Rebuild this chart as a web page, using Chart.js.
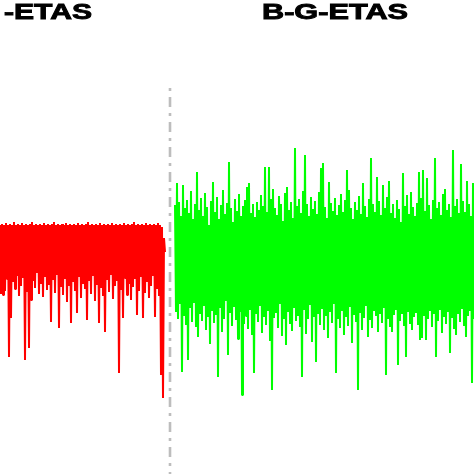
<!DOCTYPE html>
<html>
<head>
<meta charset="utf-8">
<script src="https://cdn.jsdelivr.net/npm/chart.js@4.4.0/dist/chart.umd.min.js"></script>
<style>
html,body{margin:0;padding:0;background:#ffffff;}
canvas{display:block;}
</style>
</head>
<body>
<canvas id="c" width="474" height="474"></canvas>
<script>
// ---- data ----
const modelNames = ['-ETAS', 'B-G-ETAS'];

// MCMC trace of the first model (left, red)
const redTrace = [
2.49,1.80,2.50,1.79,2.49,1.83,2.51,1.95,2.49,1.17,2.50,1.56,2.49,1.92,2.52,1.85,2.49,1.98,2.50,1.78,
2.49,1.88,2.51,1.96,2.49,1.14,2.50,1.82,2.49,1.26,2.50,1.74,2.52,1.93,2.49,1.86,2.50,2.01,2.49,1.80,
2.50,1.90,2.49,1.77,2.51,1.97,2.49,1.84,2.50,1.89,2.49,1.52,2.50,1.94,2.52,1.81,2.49,1.99,2.50,1.46,
2.49,1.87,2.50,1.79,2.49,1.95,2.51,1.72,2.49,1.88,2.50,1.51,2.49,1.92,2.50,1.83,2.49,1.61,2.51,1.97,
2.49,1.76,2.50,1.90,2.49,1.85,2.50,1.54,2.52,1.93,2.49,1.80,2.50,1.98,2.49,1.73,2.50,1.89,2.49,1.51,
2.51,1.86,2.49,1.78,2.50,1.42,2.49,1.94,2.50,1.82,2.49,1.99,2.51,1.75,2.49,1.88,2.50,1.93,2.49,1.01,
2.50,1.84,2.49,1.56,2.51,1.96,2.49,1.79,2.50,1.90,2.49,1.74,2.50,1.87,2.52,1.95,2.49,1.59,2.50,1.83,
2.49,1.97,2.50,1.56,2.49,1.81,2.51,1.92,2.49,1.76,2.50,1.88,2.49,1.98,2.50,1.57,2.49,1.85,2.51,1.78,
2.49,0.99,2.47,0.76,2.36,2.22
];

// MCMC trace of B-G-ETAS (right, green)
const greenTrace = [
2.69,1.62,2.91,1.55,2.72,1.70,2.58,1.02,2.89,1.58,2.66,1.49,2.74,1.14,2.61,1.66,2.83,1.52,2.55,1.71,
2.70,1.47,3.02,1.37,2.64,1.60,2.76,1.53,2.58,1.68,2.81,1.44,2.67,1.57,2.49,1.30,2.73,1.63,2.92,1.51,
2.62,1.59,2.77,0.97,2.55,1.66,2.69,1.42,2.84,1.55,2.60,1.73,2.71,1.19,3.12,1.61,2.66,1.48,2.52,1.67,
2.75,1.54,2.63,1.35,2.80,1.62,2.58,0.79,2.68,1.50,2.74,1.58,2.87,1.45,2.91,1.64,2.61,1.39,2.70,1.01,
2.57,1.60,2.72,1.52,2.64,1.68,2.79,1.41,2.68,1.57,3.07,1.49,2.62,1.63,3.07,1.33,2.75,0.84,2.85,1.56,
2.66,1.61,2.59,1.46,2.78,1.70,2.70,1.38,2.53,1.55,2.81,1.29,2.87,1.62,2.64,1.50,2.72,1.43,2.56,1.66,
3.26,1.53,2.68,1.58,2.75,1.47,2.61,0.97,2.83,1.64,3.19,1.40,2.70,1.55,2.58,1.69,2.77,1.32,2.65,1.57,
2.73,1.12,2.60,1.60,2.82,1.49,3.06,1.65,3.11,1.44,2.67,1.58,2.56,1.36,2.92,1.62,2.71,1.51,2.63,1.70,
2.76,1.01,2.59,1.55,2.69,1.46,2.80,1.63,2.62,1.39,2.74,1.57,3.04,1.48,2.84,1.67,2.66,1.31,2.55,1.59,
2.72,1.52,2.64,0.84,2.78,1.61,2.60,1.44,2.91,1.56,2.68,1.68,2.57,1.37,2.75,1.54,3.16,1.46,2.70,1.63,
2.62,1.58,2.97,1.42,2.73,1.60,2.59,1.51,2.89,1.66,2.66,0.99,2.77,1.55,2.93,1.47,2.61,1.42,2.70,1.59,
2.56,1.64,2.74,1.09,2.65,1.53,2.52,1.60,3.01,1.48,2.68,1.17,2.79,1.62,2.60,1.50,2.82,1.44,2.67,1.57,
2.58,1.61,2.71,1.49,3.02,1.34,2.76,1.36,3.04,1.58,2.63,1.34,2.96,1.55,2.69,1.63,2.55,1.47,2.74,1.60,
3.16,1.17,2.66,1.53,2.72,1.64,2.59,1.41,2.80,1.57,2.85,1.50,2.64,1.62,2.70,1.21,2.57,1.56,3.24,1.45,
2.68,1.39,2.75,1.60,2.61,1.52,3.10,1.65,2.73,1.48,2.62,1.37,2.93,1.58,2.70,1.63,2.58,0.91,2.91,1.55
];

// iteration offsets on the shared x axis
const redStart = 0;
const greenStart = 175;
const dividerX = 170;
const dividerTop = 3.86;

// ---- build datasets ----
const redPts = redTrace.map((v, i) => ({x: redStart + i, y: v}));
const greenPts = greenTrace.map((v, i) => ({x: greenStart + i, y: v}));
const dividerPts = [{x: dividerX, y: dividerTop}, {x: dividerX, y: 0}];

const titlePlugin = {
  id: 'modelTitles',
  afterDraw(chart) {
    const ctx = chart.ctx;
    const specs = [
      {text: modelNames[0], left: 4, width: 88},
      {text: modelNames[1], left: 262, width: 146}
    ];
    ctx.save();
    ctx.font = 'bold 22px "Liberation Sans", Arial, sans-serif';
    ctx.fillStyle = '#000';
    ctx.strokeStyle = '#000';
    ctx.lineWidth = 0.9;
    ctx.textBaseline = 'alphabetic';
    specs.forEach(s => {
      const w = ctx.measureText(s.text).width;
      ctx.save();
      ctx.translate(s.left, 19);
      ctx.scale(s.width / w, 1);
      ctx.fillText(s.text, 0, 0);
      ctx.strokeText(s.text, 0, 0);
      ctx.restore();
    });
    ctx.restore();
  }
};

new Chart(document.getElementById('c'), {
  type: 'scatter',
  data: {
    datasets: [
      {
        label: modelNames[0],
        data: redPts,
        showLine: true,
        borderColor: '#ff0000',
        backgroundColor: '#ff0000',
        borderWidth: 2,
        borderJoinStyle: 'bevel',
        pointRadius: 0,
        tension: 0
      },
      {
        label: modelNames[1],
        data: greenPts,
        showLine: true,
        borderColor: '#00ff00',
        backgroundColor: '#00ff00',
        borderWidth: 2,
        borderJoinStyle: 'bevel',
        pointRadius: 0,
        tension: 0
      },
      {
        label: 'divider',
        data: dividerPts,
        showLine: true,
        borderColor: '#bdbdbd',
        borderWidth: 2.6,
        borderDash: [3, 6, 10, 6],
        pointRadius: 0
      }
    ]
  },
  options: {
    responsive: false,
    animation: false,
    devicePixelRatio: 1,
    layout: {padding: 0},
    plugins: {legend: {display: false}, tooltip: {enabled: false}, title: {display: false}},
    scales: {
      x: {type: 'linear', min: 0, max: 474, display: false},
      y: {type: 'linear', min: 0, max: 4.74, display: false}
    }
  },
  plugins: [titlePlugin]
});
</script>
</body>
</html>
